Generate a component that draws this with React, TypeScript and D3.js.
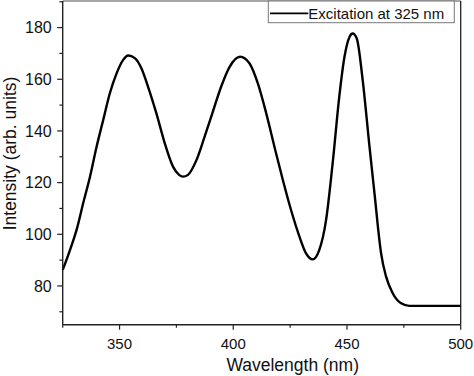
import React, { useMemo } from 'react'
import * as d3 from 'd3'

// emission spectrum, excitation at 325 nm
const wavelengths = [
  325, 328.2, 331.1, 334, 337, 339.9, 342.8, 345.7, 348.7, 351.6, 353.8, 356.7, 359.6, 362.5,
  366.2, 369.9, 373.5, 376.2, 377.9, 380.1, 383.8, 387.4, 391, 394.7, 398.4, 403, 407.1, 410.8,
  414.5, 418.1, 421.8, 425.4, 429.1, 432, 434.9, 437.8, 440.8, 443.7, 446.6, 448.9, 451.1,
  452.5, 454.3, 456.9, 459.9, 462.4, 463.6, 465, 467.2, 470.1, 473.8, 477.4, 480, 490, 500
]
const intensities = [
  86.2, 93.9, 101.7, 112, 122.3, 133.9, 144.2, 154.5, 162.3, 167.5, 169.2, 168.2, 164.3, 157.2,
  146.8, 135.2, 126.2, 123, 122.3, 123, 128.7, 137.8, 147.4, 157.2, 164.8, 168.7, 166.2, 158.4,
  146.8, 133.9, 121, 109.4, 99.1, 92.6, 90.3, 93.9, 105.5, 127.5, 153.2, 168.7, 176.4,
  177.7, 175.8, 159.7, 133.9, 113.3, 102.9, 92.6, 83.6, 77.2, 73.3, 72.3, 72.3, 72.3, 72.3
]

const xMajorTicks = [350, 400, 450, 500]
const xMinorTicks = [325, 375, 425, 475]
const yMajorTicks = [80, 100, 120, 140, 160, 180]
const yMinorTicks = [70, 90, 110, 130, 150, 170, 190]
const legendLabel = 'Excitation at 325 nm'

const font = '"Liberation Sans", Arial, sans-serif'

export default function App() {
  const width = 474
  const height = 376
  const plot = { left: 62.7, right: 460.7, top: 1, bottom: 324.7 }

  const chart = useMemo(() => {
    const x = d3.scaleLinear().domain([325, 500]).range([plot.left, plot.right])
    const y = d3.scaleLinear().domain([65, 190.3]).range([plot.bottom, plot.top])
    const points = wavelengths.map((w, i) => [w, intensities[i]] as [number, number])
    const line = d3
      .line<[number, number]>()
      .x(d => x(d[0]))
      .y(d => y(d[1]))
      .curve(d3.curveMonotoneX)
    return { x, y, path: line(points) }
  }, [])

  const { x, y } = chart

  return (
    <svg
      width={width}
      height={height}
      viewBox={`0 0 ${width} ${height}`}
      style={{ position: 'absolute', left: 0, top: 0, background: '#fff' }}
    >
      <rect width={width} height={height} fill="#fff" />

      {/* frame */}
      <line x1={plot.left} x2={plot.right} y1={plot.top} y2={plot.top} stroke="#888" strokeWidth={1.6} />
      <line x1={plot.right} x2={plot.right} y1={plot.top} y2={plot.bottom} stroke="#222" strokeWidth={1.3} />

      <path d={chart.path ?? ''} fill="none" stroke="#000" strokeWidth={2.4} strokeLinejoin="round" />

      {/* x axis */}
      <line x1={plot.left} x2={plot.right} y1={plot.bottom} y2={plot.bottom} stroke="#222" strokeWidth={1.4} />
      {xMajorTicks.map(t => (
        <g key={`xm${t}`}>
          <line x1={x(t)} x2={x(t)} y1={plot.bottom} y2={plot.bottom + 5} stroke="#222" strokeWidth={1.2} />
          <text x={x(t)} y={348.7} textAnchor="middle" fontFamily={font} fontSize={15} fill="#111">
            {t}
          </text>
        </g>
      ))}
      {xMinorTicks.map(t => (
        <line key={`xn${t}`} x1={x(t)} x2={x(t)} y1={plot.bottom} y2={plot.bottom + 3} stroke="#222" strokeWidth={1.2} />
      ))}
      <text x={292.7} y={370.5} textAnchor="middle" fontFamily={font} fontSize={17.5} fill="#111">
        Wavelength (nm)
      </text>

      {/* y axis */}
      <line x1={plot.left} x2={plot.left} y1={plot.top} y2={plot.bottom} stroke="#222" strokeWidth={1.4} />
      {yMajorTicks.map(t => (
        <g key={`ym${t}`}>
          <line x1={plot.left - 5.5} x2={plot.left} y1={y(t)} y2={y(t)} stroke="#222" strokeWidth={1.2} />
          <text x={51.7} y={y(t) + 5.6} textAnchor="end" fontFamily={font} fontSize={16} fill="#111">
            {t}
          </text>
        </g>
      ))}
      {yMinorTicks.map(t => (
        <line key={`yn${t}`} x1={plot.left - 3.3} x2={plot.left} y1={y(t)} y2={y(t)} stroke="#222" strokeWidth={1.2} />
      ))}
      <text
        transform="translate(16,153.5) rotate(-90)"
        textAnchor="middle"
        fontFamily={font}
        fontSize={17.5}
        fill="#111"
      >
        Intensity (arb. units)
      </text>

      {/* legend */}
      <rect x={268.3} y={1} width={186} height={21.7} fill="#fff" stroke="#777" strokeWidth={1} />
      <line x1={270} x2={308.3} y1={13.3} y2={13.3} stroke="#000" strokeWidth={1.8} />
      <text x={308.3} y={19} fontFamily={font} fontSize={15} fill="#111">
        {legendLabel}
      </text>
    </svg>
  )
}
